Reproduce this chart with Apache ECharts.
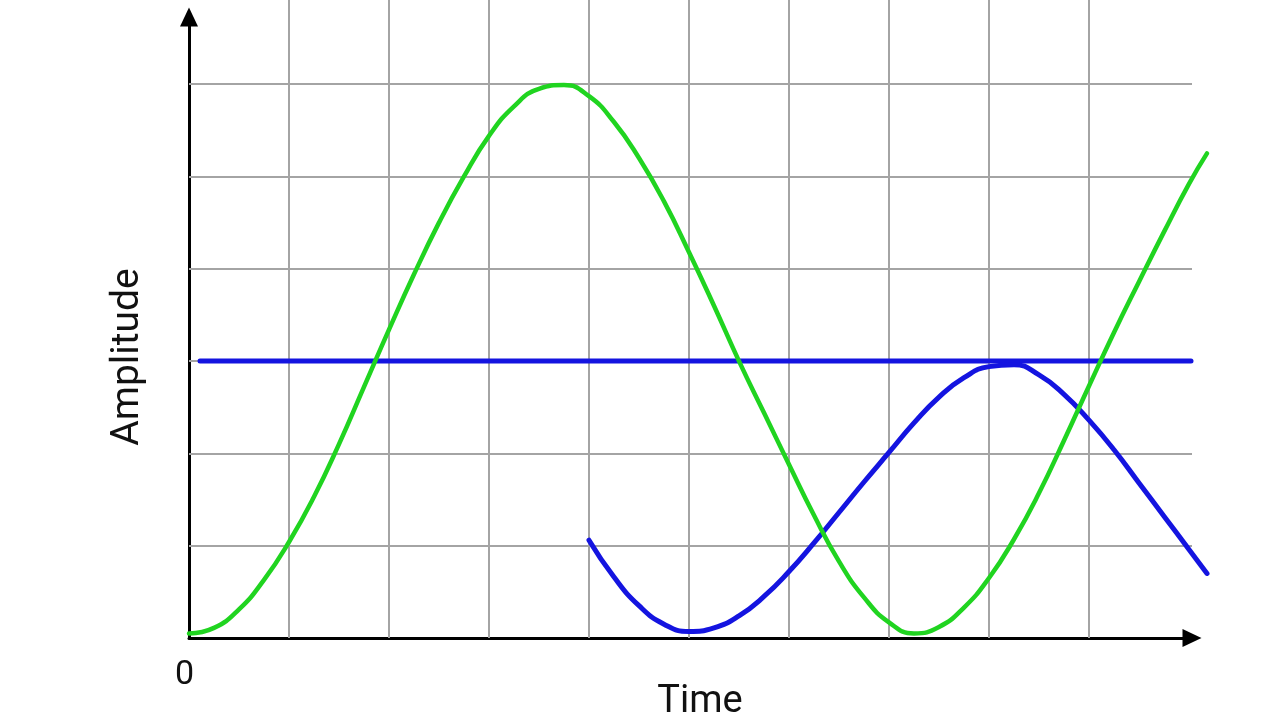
<!DOCTYPE html>
<html>
<head>
<meta charset="utf-8">
<script src="https://cdn.jsdelivr.net/npm/echarts@6/dist/echarts.min.js"></script>
<style>
  html, body { margin: 0; padding: 0; background: #ffffff; }
  #chart { width: 1280px; height: 720px; }
</style>
</head>
<body>
<div id="chart"></div>
<script>
// ---- data ----
const greenX = [0, 0.25, 0.5, 0.75, 1.0, 1.25, 1.5, 1.75, 2.0, 2.25, 2.5, 2.75, 3.0, 3.25, 3.5, 3.75, 4.0, 4.25, 4.5, 4.75, 5.0, 5.25, 5.5, 5.75, 6.0, 6.25, 6.5, 6.75, 7.0, 7.25, 7.5, 7.75, 8.0, 8.25, 8.5, 8.75, 9.0, 9.25, 9.5, 9.75, 10.0, 10.18];
const greenY = [0.05, 0.11, 0.31, 0.63, 1.04, 1.53, 2.1, 2.72, 3.34, 3.94, 4.5, 5.0, 5.44, 5.76, 5.95, 5.99, 5.87, 5.59, 5.2, 4.73, 4.18, 3.6, 3.0, 2.44, 1.88, 1.33, 0.83, 0.44, 0.17, 0.05, 0.12, 0.33, 0.65, 1.07, 1.57, 2.14, 2.73, 3.31, 3.86, 4.4, 4.92, 5.25];

const blueX = [4.0, 4.25, 4.5, 4.75, 5.0, 5.25, 5.5, 5.75, 6.0, 6.25, 6.5, 6.75, 7.0, 7.25, 7.5, 7.75, 8.0, 8.25, 8.5, 8.75, 9.0, 9.25, 9.5, 9.75, 10.0, 10.18];
const blueY = [1.06, 0.66, 0.35, 0.15, 0.07, 0.11, 0.24, 0.45, 0.72, 1.03, 1.36, 1.69, 2.01, 2.33, 2.61, 2.82, 2.94, 2.96, 2.85, 2.64, 2.36, 2.04, 1.68, 1.32, 0.96, 0.70];

const levelX = [0.11, 10.02];
const levelY = [3, 3];

const gridXTicks = [1, 2, 3, 4, 5, 6, 7, 8, 9];
const gridYTicks = [1, 2, 3, 4, 5, 6];
const xTickLabels = ['0'];
const xAxisTitle = 'Time';
const yAxisTitle = 'Amplitude';

// ---- axis extents ----
const X_MAX = 10.03;        // end of the grid lines / x axis
const X_MAX_DATA = 10.3;    // plotting room for the curves
const Y_TOP_GRID = 6.912;
const Y_TOP_AXIS = 6.728;

const pairs = (xs, ys) => xs.map((x, i) => [x, ys[i]]);

const gridLineData = [].concat(
  gridXTicks.map(v => [{ coord: [v, 0] }, { coord: [v, Y_TOP_GRID] }]),
  gridYTicks.map(v => [{ coord: [0, v] }, { coord: [X_MAX, v] }])
);

const axisLineStyle = {
  show: true,
  symbol: ['none', 'triangle'],
  symbolSize: [18, 19],
  lineStyle: { color: '#000000', width: 3 }
};

const chart = echarts.init(document.getElementById('chart'), null, { renderer: 'canvas' });
chart.setOption({
  animation: false,
  backgroundColor: '#ffffff',
  grid: [
    { left: 189, top: 0, width: 1030, height: 638, containLabel: false },
    { left: 189, top: 17, width: 1003, height: 621, containLabel: false }
  ],
  xAxis: [
    { gridIndex: 0, type: 'value', min: 0, max: X_MAX_DATA, show: false },
    {
      gridIndex: 1, type: 'value', min: 0, max: X_MAX, interval: 1,
      axisLine: axisLineStyle,
      axisTick: { show: false },
      splitLine: { show: false },
      axisLabel: {
        show: true,
        margin: 20,
        fontSize: 34,
        fontFamily: 'Roboto',
        color: '#111111',
        padding: [0, 9, 0, 0],
        formatter: v => (v === 0 ? xTickLabels[0] : '')
      }
    }
  ],
  yAxis: [
    { gridIndex: 0, type: 'value', min: 0, max: Y_TOP_GRID, show: false },
    {
      gridIndex: 1, type: 'value', min: 0, max: Y_TOP_AXIS, interval: 1,
      axisLine: axisLineStyle,
      axisTick: { show: false },
      splitLine: { show: false },
      axisLabel: { show: false }
    }
  ],
  graphic: [
    {
      type: 'text', x: 700, y: 702, z: 10,
      style: { text: xAxisTitle, font: '38px Roboto', fill: '#111111', textAlign: 'center', textVerticalAlign: 'middle' }
    },
    {
      type: 'text', x: 128, y: 357, rotation: Math.PI / 2, z: 10,
      style: { text: yAxisTitle, font: '39px Roboto', fill: '#111111', textAlign: 'center', textVerticalAlign: 'middle' }
    }
  ],
  series: [
    {
      name: 'grid', type: 'line', xAxisIndex: 0, yAxisIndex: 0, data: [], z: 1,
      silent: true,
      markLine: {
        silent: true,
        z: 1,
        symbol: ['none', 'none'],
        label: { show: false },
        lineStyle: { color: '#a4a4a4', width: 2, type: 'solid' },
        emphasis: { disabled: true },
        animation: false,
        data: gridLineData
      }
    },
    {
      name: 'level', type: 'line', xAxisIndex: 0, yAxisIndex: 0, z: 10,
      data: pairs(levelX, levelY), showSymbol: false, symbol: 'none', clip: false,
      lineStyle: { color: '#1414e0', width: 5, cap: 'round' }
    },
    {
      name: 'wave2', type: 'line', xAxisIndex: 0, yAxisIndex: 0, z: 11,
      data: pairs(blueX, blueY), smooth: 0.5, showSymbol: false, symbol: 'none', clip: false,
      lineStyle: { color: '#1414e0', width: 5, cap: 'round', join: 'round' }
    },
    {
      name: 'wave1', type: 'line', xAxisIndex: 0, yAxisIndex: 0, z: 12,
      data: pairs(greenX, greenY), smooth: 0.5, showSymbol: false, symbol: 'none', clip: false,
      lineStyle: { color: '#20d420', width: 4.5, cap: 'round', join: 'round' }
    }
  ]
});
</script>
</body>
</html>
